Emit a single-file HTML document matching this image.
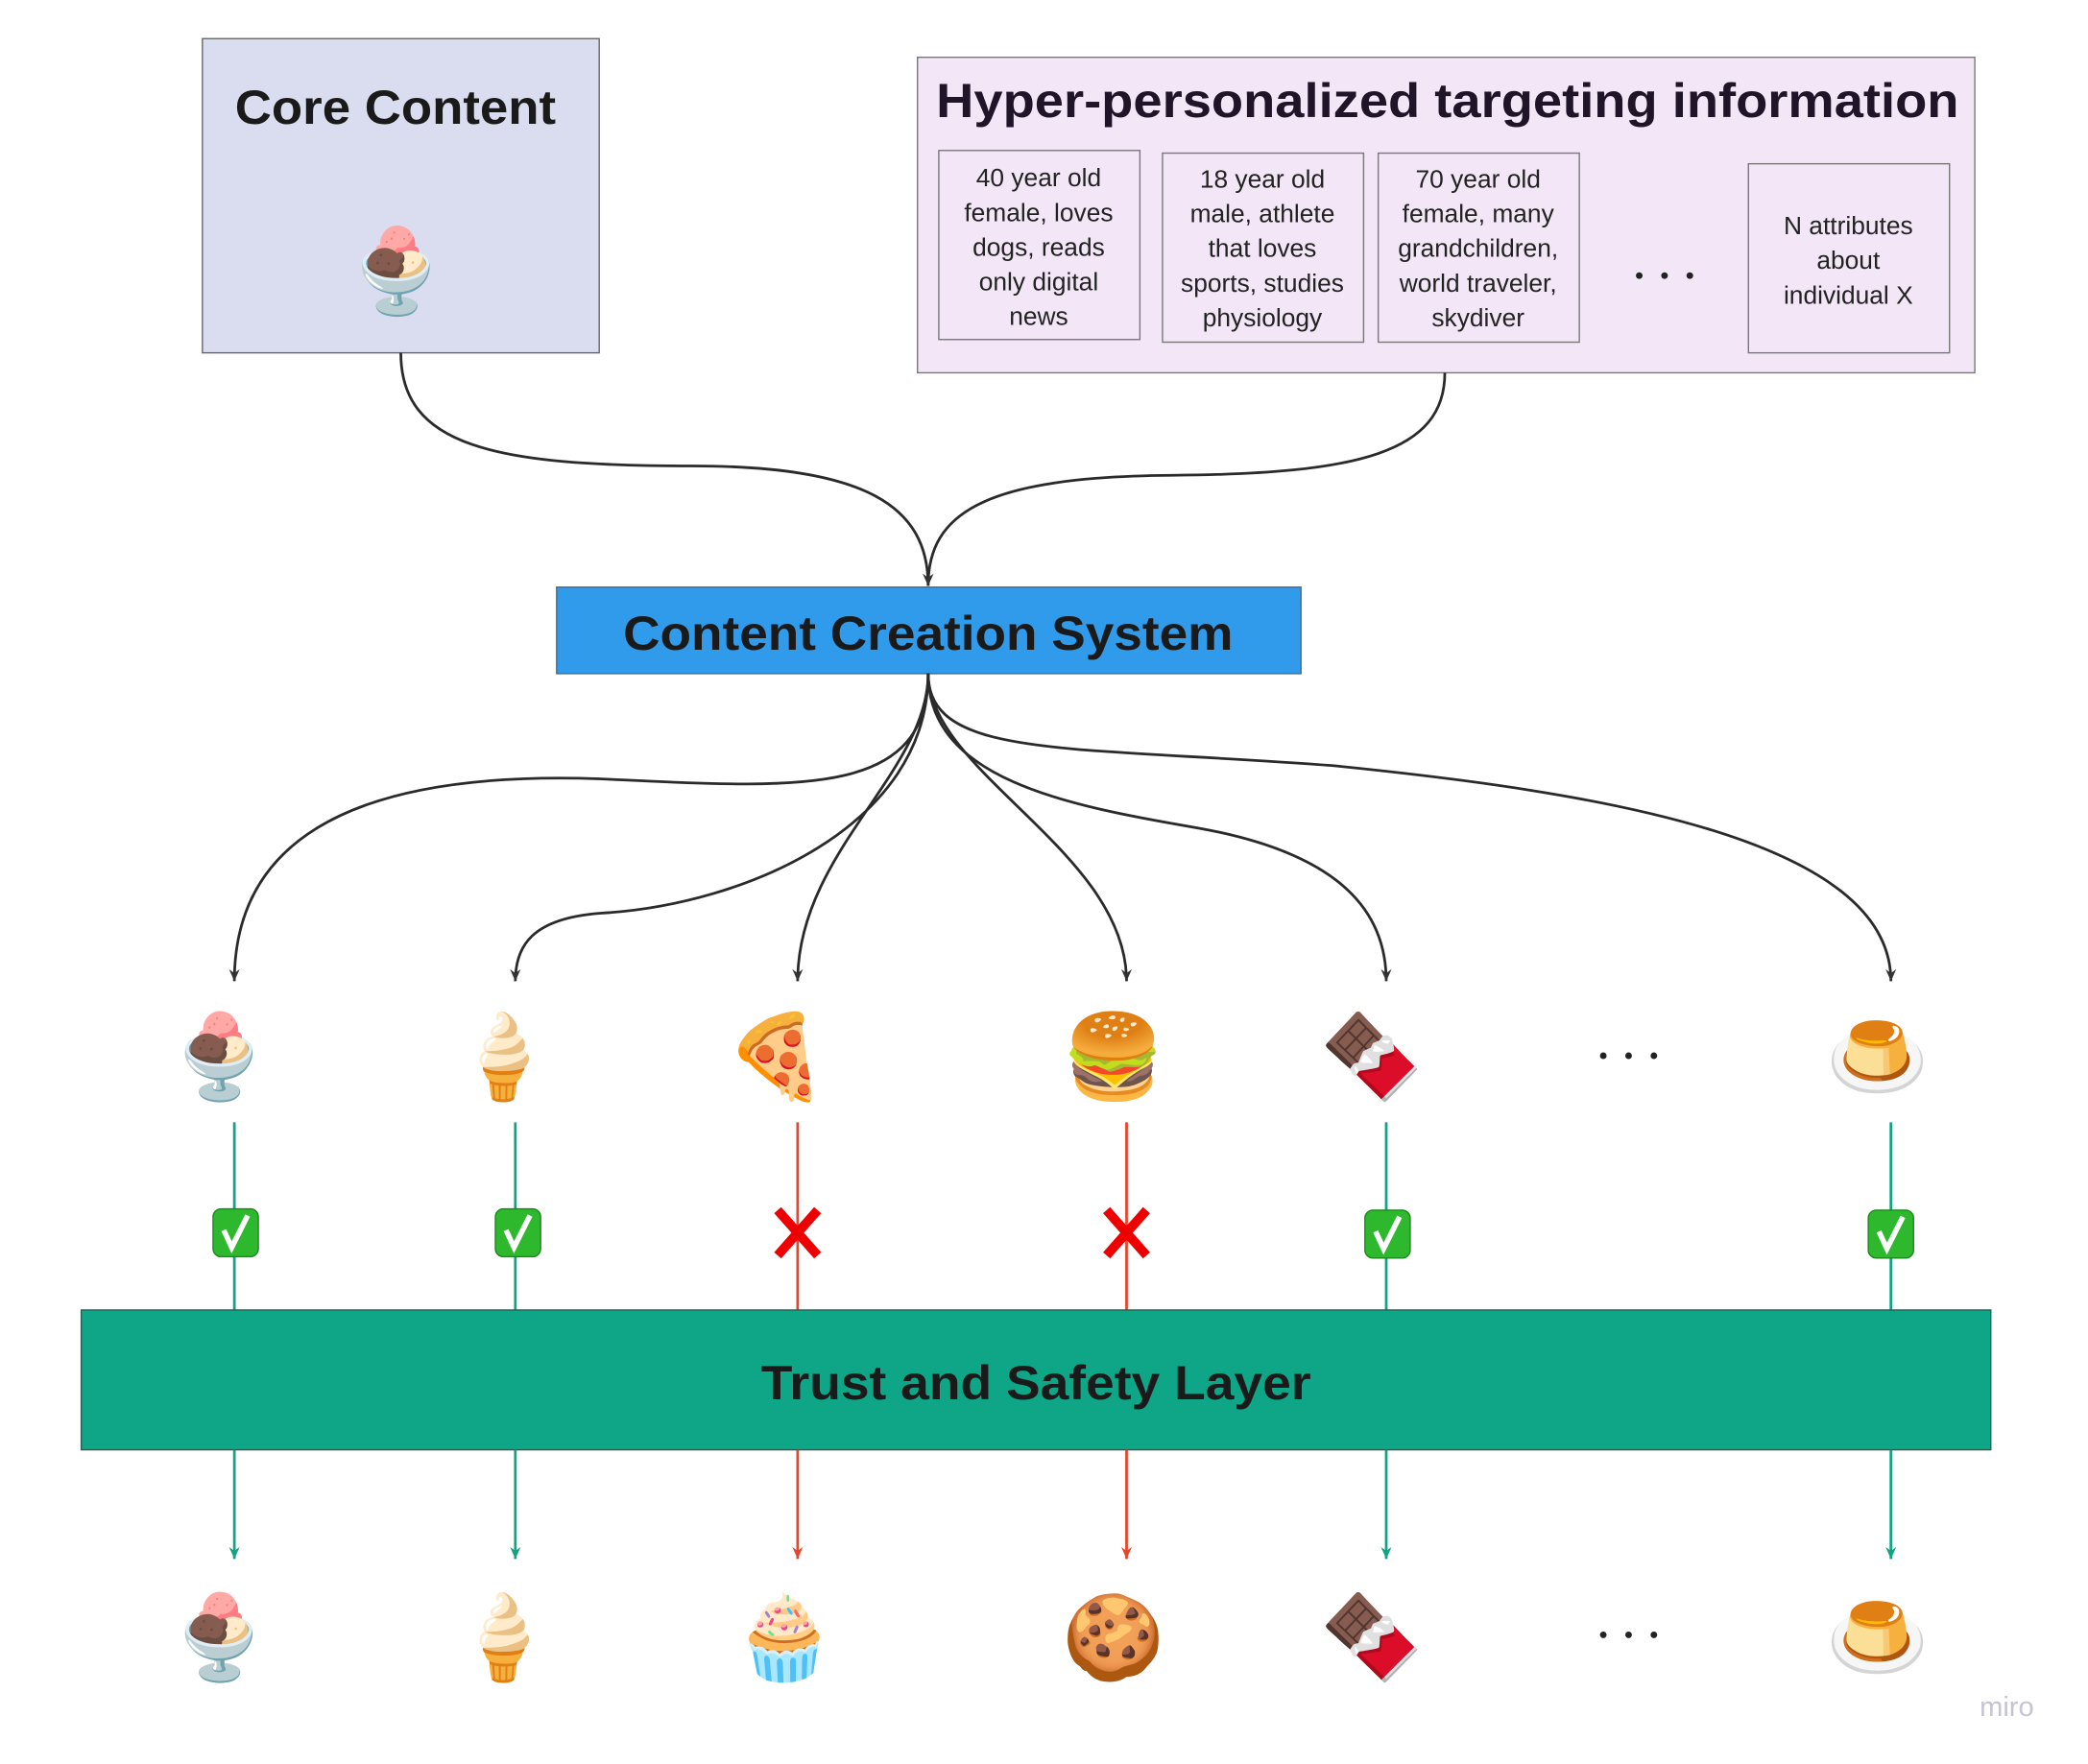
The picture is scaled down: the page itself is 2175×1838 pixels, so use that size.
<!DOCTYPE html>
<html><head><meta charset="utf-8"><style>
html,body{margin:0;padding:0;background:#fff;}
svg{display:block;}
text{font-family:"Liberation Sans",sans-serif;}
.b{font-weight:bold;fill:#1a1a1a;}
.s{font-size:19px;fill:#222;text-anchor:middle;}
.e{font-size:62px;text-anchor:middle;font-family:"Noto Color Emoji","DejaVu Sans",sans-serif;}
</style></head><body>
<svg width="2175" height="1838" viewBox="0 0 1568 1325" xmlns="http://www.w3.org/2000/svg">
<defs>
<marker id="ak" markerWidth="10" markerHeight="10" refX="9" refY="4" orient="auto" markerUnits="userSpaceOnUse"><path d="M0 0 L9 4 L0 8 L3 4 Z" fill="#333"/></marker>
<marker id="ag" markerWidth="10" markerHeight="10" refX="9" refY="4" orient="auto" markerUnits="userSpaceOnUse"><path d="M0 0 L9 4 L0 8 L3 4 Z" fill="#12a383"/></marker>
<marker id="ar" markerWidth="10" markerHeight="10" refX="9" refY="4" orient="auto" markerUnits="userSpaceOnUse"><path d="M0 0 L9 4 L0 8 L3 4 Z" fill="#e5452d"/></marker>
</defs>
<rect width="1568" height="1325" fill="#fff"/>
<rect x="152" y="29" width="298" height="236" fill="#dadcef" stroke="#666" stroke-width="1"/>
<text x="297" y="93" class="b" font-size="36" text-anchor="middle" textLength="241" lengthAdjust="spacingAndGlyphs">Core Content</text>
<text x="298" y="225" class="e">🍨</text>
<rect x="689" y="43" width="794" height="237" fill="#f2e6f7" stroke="#777" stroke-width="1"/>
<text x="1087" y="88" class="b" font-size="36" text-anchor="middle" textLength="768" lengthAdjust="spacingAndGlyphs" style="fill:#1f1428">Hyper-personalized targeting information</text>
<g fill="none" stroke="#777" stroke-width="1">
<rect x="705" y="113" width="151" height="142"/>
<rect x="873" y="115" width="151" height="142"/>
<rect x="1035" y="115" width="151" height="142"/>
<rect x="1313" y="123" width="151" height="142"/>
</g>
<text class="s"><tspan x="780" y="140">40 year old</tspan><tspan x="780" y="166">female, loves</tspan><tspan x="780" y="192">dogs, reads</tspan><tspan x="780" y="218">only digital</tspan><tspan x="780" y="244">news</tspan></text>
<text class="s"><tspan x="948" y="141">18 year old</tspan><tspan x="948" y="167">male, athlete</tspan><tspan x="948" y="193">that loves</tspan><tspan x="948" y="219">sports, studies</tspan><tspan x="948" y="245">physiology</tspan></text>
<text class="s"><tspan x="1110" y="141">70 year old</tspan><tspan x="1110" y="167">female, many</tspan><tspan x="1110" y="193">grandchildren,</tspan><tspan x="1110" y="219">world traveler,</tspan><tspan x="1110" y="245">skydiver</tspan></text>
<text class="s"><tspan x="1388" y="176">N attributes</tspan><tspan x="1388" y="202">about</tspan><tspan x="1388" y="228">individual X</tspan></text>
<g fill="#222"><circle cx="1231" cy="207" r="2.5"/><circle cx="1250" cy="207" r="2.5"/><circle cx="1269" cy="207" r="2.5"/></g>
<g fill="none" stroke="#2a2a2a" stroke-width="2">
<path d="M301 265 C301 335 370 350 520 350 C650 350 697 380 697 440" marker-end="url(#ak)"/>
<path d="M1085 280 C1085 340 1020 356 880 357 C740 358 697 385 697 440" marker-end="url(#ak)"/>
</g>
<rect x="418" y="441" width="559" height="65" fill="#2f9bea" stroke="#4a6a8a" stroke-width="1"/>
<text x="697" y="488" class="b" font-size="36" text-anchor="middle" textLength="458" lengthAdjust="spacingAndGlyphs">Content Creation System</text>
<g fill="none" stroke="#2a2a2a" stroke-width="2">
<path d="M697 506 C697 600 600 592 450 585 C250 578 176 640 176 737" marker-end="url(#ak)"/>
<path d="M697 506 C697 620 560 680 450 686 C400 690 387 710 387 737" marker-end="url(#ak)"/>
<path d="M697 506 C697 580 599 640 599 737" marker-end="url(#ak)"/>
<path d="M697 506 C697 580 846 640 846 737" marker-end="url(#ak)"/>
<path d="M697 506 C697 585 800 605 900 622 C1000 640 1041 680 1041 737" marker-end="url(#ak)"/>
<path d="M697 506 C697 570 800 560 1000 575 C1200 595 1420 630 1420 737" marker-end="url(#ak)"/>
</g>
<text x="165" y="815" class="e">🍨</text>
<text x="378" y="815" class="e">🍦</text>
<text x="583" y="815" class="e">🍕</text>
<text x="836" y="815" class="e">🍔</text>
<text x="1030" y="815" class="e">🍫</text>
<text x="1410" y="815" class="e">🍮</text>
<g fill="#222"><circle cx="1204" cy="793" r="2.5"/><circle cx="1223" cy="793" r="2.5"/><circle cx="1242" cy="793" r="2.5"/></g>
<g stroke-width="2">
<line x1="176" y1="843" x2="176" y2="984" stroke="#12a383"/>
<line x1="387" y1="843" x2="387" y2="984" stroke="#12a383"/>
<line x1="599" y1="843" x2="599" y2="984" stroke="#e5452d"/>
<line x1="846" y1="843" x2="846" y2="984" stroke="#e5452d"/>
<line x1="1041" y1="843" x2="1041" y2="984" stroke="#12a383"/>
<line x1="1420" y1="843" x2="1420" y2="984" stroke="#12a383"/>
</g>
<g>
<g transform="translate(177,926)"><rect x="-17" y="-18" width="34" height="36" rx="6" fill="#2db82d" stroke="#1a8a1a"/><path d="M-9 -2 L-3 11 L9 -13" fill="none" stroke="#fff" stroke-width="4"/></g>
<g transform="translate(389,926)"><rect x="-17" y="-18" width="34" height="36" rx="6" fill="#2db82d" stroke="#1a8a1a"/><path d="M-9 -2 L-3 11 L9 -13" fill="none" stroke="#fff" stroke-width="4"/></g>
<g transform="translate(1042,927)"><rect x="-17" y="-18" width="34" height="36" rx="6" fill="#2db82d" stroke="#1a8a1a"/><path d="M-9 -2 L-3 11 L9 -13" fill="none" stroke="#fff" stroke-width="4"/></g>
<g transform="translate(1420,927)"><rect x="-17" y="-18" width="34" height="36" rx="6" fill="#2db82d" stroke="#1a8a1a"/><path d="M-9 -2 L-3 11 L9 -13" fill="none" stroke="#fff" stroke-width="4"/></g>
<g transform="translate(599,926)" stroke="#e00" stroke-width="7"><line x1="-15" y1="-17" x2="15" y2="17"/><line x1="15" y1="-17" x2="-15" y2="17"/></g>
<g transform="translate(846,926)" stroke="#e00" stroke-width="7"><line x1="-15" y1="-17" x2="15" y2="17"/><line x1="15" y1="-17" x2="-15" y2="17"/></g>
</g>
<rect x="61" y="984" width="1434" height="105" fill="#0fa688" stroke="#2f5a50" stroke-width="1"/>
<text x="778" y="1051" class="b" font-size="36" text-anchor="middle" textLength="413" lengthAdjust="spacingAndGlyphs">Trust and Safety Layer</text>
<g stroke-width="2">
<line x1="176" y1="1089" x2="176" y2="1171" stroke="#12a383" marker-end="url(#ag)"/>
<line x1="387" y1="1089" x2="387" y2="1171" stroke="#12a383" marker-end="url(#ag)"/>
<line x1="599" y1="1089" x2="599" y2="1171" stroke="#e5452d" marker-end="url(#ar)"/>
<line x1="846" y1="1089" x2="846" y2="1171" stroke="#e5452d" marker-end="url(#ar)"/>
<line x1="1041" y1="1089" x2="1041" y2="1171" stroke="#12a383" marker-end="url(#ag)"/>
<line x1="1420" y1="1089" x2="1420" y2="1171" stroke="#12a383" marker-end="url(#ag)"/>
</g>
<text x="165" y="1251" class="e">🍨</text>
<text x="378" y="1251" class="e">🍦</text>
<text x="589" y="1251" class="e">🧁</text>
<text x="836" y="1251" class="e">🍪</text>
<text x="1030" y="1251" class="e">🍫</text>
<text x="1410" y="1251" class="e">🍮</text>
<g fill="#222"><circle cx="1204" cy="1228" r="2.5"/><circle cx="1223" cy="1228" r="2.5"/><circle cx="1242" cy="1228" r="2.5"/></g>
<text x="1507" y="1289" font-size="21" text-anchor="middle" fill="#c5c5d2">miro</text>
</svg>
</body></html>
